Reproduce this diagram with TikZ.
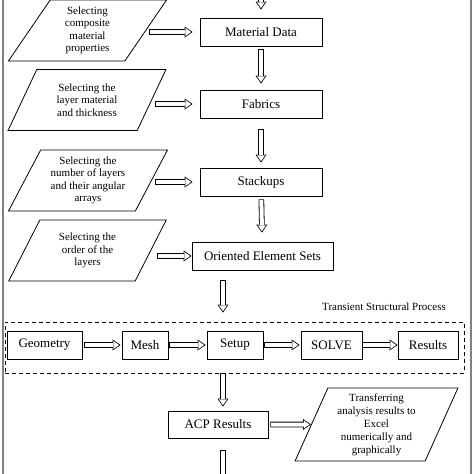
\documentclass[tikz,border=0pt]{standalone}
\usepackage{fontspec}
\setmainfont{Liberation Serif}
\usetikzlibrary{arrows.meta,shapes.geometric}
\begin{document}
\begin{tikzpicture}[x=1pt,y=-1pt,line width=0.8pt,
  box/.style={draw,rectangle,minimum height=28pt,inner sep=0pt,font=\fontsize{13pt}{15pt}\selectfont},
  para/.style={draw,trapezium,trapezium left angle=62,trapezium right angle=118,trapezium stretches=true,
    minimum width=159pt,minimum height=61pt,inner sep=0pt,align=center,font=\fontsize{11pt}{12.5pt}\selectfont},
  % hollow block arrow: black pass, then white pass inside
  arr/.style n args={2}{line width=5.6pt,shorten <=#1,shorten >=#2,
    -{Triangle[length=8pt,width=11pt,line width'=0pt]},
    postaction={draw=white,line width=4pt,shorten <=#1+0.8pt,shorten >=#2+1.4pt,
      -{Triangle[length=5.8pt,width=8pt,line width'=0pt]}}}]
  \useasboundingbox (0,0) rectangle (474,474);
  % frame
  \draw[gray,line width=2pt] (3,0) -- (3,474);
  \draw[gray,line width=2pt] (471,0) -- (471,474);

  % input parallelograms
  \node[para] (p1) at (87.5,30.5) {Selecting\\composite\\material\\properties};
  \node[para] (p2) at (87,100) {Selecting the\\layer material\\and thickness};
  \node[para] (p3) at (88,180.5) {Selecting the\\number of layers\\and their angular\\arrays};
  \node[para] (p4) at (87.5,250.5) {Selecting the\\order of the\\layers};

  % main column
  \node[box,minimum width=122pt] (md) at (261,32) {Material Data};
  \node[box,minimum width=122pt] (fab) at (261,104) {Fabrics};
  \node[box,minimum width=122pt] (stk) at (261,182) {Stackups};
  \node[box,minimum width=141pt] (oes) at (262.5,256) {Oriented Element Sets};

  \coordinate (top) at (261,-8);
  \draw[arr={0pt}{8pt}] (top) -- (md);
  \draw[arr={3pt}{6pt}] (md) -- (fab);
  \draw[arr={11pt}{5pt}] (fab) -- (stk);
  \draw[arr={3pt}{9pt}] (stk) -- (oes);

  \draw[arr={3pt}{7pt}] (p1.east |- md) -- (md.west);
  \draw[arr={3pt}{7pt}] (p2.east |- fab) -- (fab.west);
  \draw[arr={3pt}{7pt}] (p3.east |- stk) -- (stk.west);
  \draw[arr={6pt}{0pt}] (p4.east |- oes) -- (oes.west);

  % transient structural process
  \node[draw,dash pattern=on 4pt off 3pt,minimum width=459pt,minimum height=51pt] (tsp) at (234.5,347.5) {};
  \node[font=\fontsize{11pt}{13pt}\selectfont] (tlab) at (384,307) {Transient Structural Process};
  \node[box,minimum width=75pt] (geo) at (44.5,345) {Geometry};
  \node[box,minimum width=46pt] (mesh) at (145,345) {Mesh};
  \node[box,minimum width=56pt] (setup) at (235,345) {Setup};
  \node[box,minimum width=61pt] (solve) at (331.5,345) {SOLVE};
  \node[box,minimum width=60pt] (res) at (428,345) {Results};
  \draw[arr={2pt}{1pt}] (geo) -- (mesh);
  \draw[arr={1pt}{1pt}] (mesh) -- (setup);
  \draw[arr={1pt}{1pt}] (setup) -- (solve);
  \draw[arr={0pt}{0pt}] (solve) -- (res);

  % results
  \coordinate (ax) at (223,484);
  \node[box,minimum width=100pt,minimum height=27pt] (acp) at (218,424.5) {ACP Results};
  \node[para,trapezium left angle=67,trapezium right angle=113,minimum width=163pt,minimum height=73pt,
    font=\fontsize{11pt}{13pt}\selectfont] (tr) at (376.5,424.5)
    {Transferring\\analysis results to\\Excel\\numerically and\\graphically};
  \draw[arr={10pt}{9pt}] (oes.south -| ax) -- (tsp.north -| ax);
  \draw[arr={0pt}{4pt}] (tsp.south -| ax) -- (acp.north -| ax);
  \draw[arr={12pt}{0pt}] (acp.south -| ax) -- (ax);
  \draw[arr={2pt}{0pt}] (acp) -- (tr);
\end{tikzpicture}
\end{document}
